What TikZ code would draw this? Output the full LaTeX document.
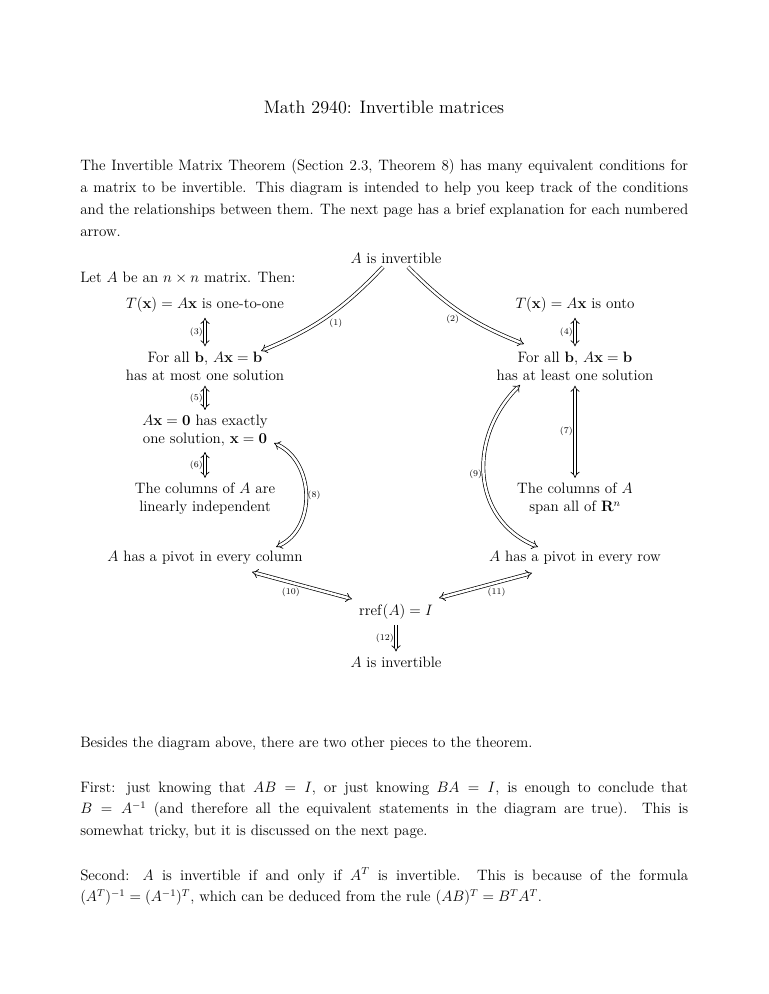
\documentclass[tikz,border=0pt,12pt]{standalone}
\usepackage{amsmath,amssymb}
\usetikzlibrary{arrows.meta,calc}

\begin{document}
\begin{tikzpicture}[x=0.7969pt,y=0.7969pt,font=\fontsize{12}{14.5}\selectfont]
\def\lx{205} % left column
\def\rx{575} % right column
\def\mx{396} % middle column
\tikzset{
  stmt/.style={align=center},
  num/.style={font=\fontsize{7}{8}\selectfont,inner sep=1.5pt},
  iff/.style={double,line width=0.55pt,double distance=2pt,Implies-Implies},
  imp/.style={double,line width=0.55pt,double distance=2pt,-Implies},
  para/.style={anchor=base west,inner sep=0pt,text width=484.5pt,align=justify,font=\fontsize{12}{17.5}\selectfont}
}
\useasboundingbox (0,0) rectangle (768,-994);

% page text
\node (title) at (384,-107) {\fontsize{14.4}{18}\selectfont Math 2940: Invertible matrices};
\node[para] (intro) at (80,-171) {The Invertible Matrix Theorem (Section 2.3, Theorem 8) has many equivalent conditions for a matrix to be invertible. This diagram is intended to help you keep track of the conditions and the relationships between them. The next page has a brief explanation for each numbered arrow.};
\node[para] (letA) at (80,-283) {Let $A$ be an $n\times n$ matrix. Then:};
\node[para] (besides) at (80,-747) {Besides the diagram above, there are two other pieces to the theorem.};
\node[para] (first) at (80,-792) {First: just knowing that $AB=I$, or just knowing $BA=I$, is enough to conclude that\linebreak $B=A^{-1}$ (and therefore all the equivalent statements in the diagram are true). This is\linebreak somewhat tricky, but it is discussed on the next page.};
\node[para] (second) at (80,-880) {Second: $A$ is invertible if and only if $A^T$ is invertible. This is because of the formula\linebreak $(A^T)^{-1}=(A^{-1})^T$, which can be deduced from the rule $(AB)^T=B^TA^T$.};

% statements
\node[stmt] (inv) at (\mx,-258) {$A$ is invertible};
\node[stmt] (one) at (\lx,-305) {$T(\mathbf{x})=A\mathbf{x}$ is one-to-one};
\node[stmt] (onto) at (\rx,-305) {$T(\mathbf{x})=A\mathbf{x}$ is onto};
\node[stmt] (most) at (\lx,-366) {For all $\mathbf{b}$, $A\mathbf{x}=\mathbf{b}$\\has at most one solution};
\node[stmt] (least) at (\rx,-366) {For all $\mathbf{b}$, $A\mathbf{x}=\mathbf{b}$\\has at least one solution};
\node[stmt] (triv) at (\lx,-431) {$A\mathbf{x}=\mathbf{0}$ has exactly\\one solution, $\mathbf{x}=\mathbf{0}$};
\node[stmt] (indep) at (\lx,-499) {The columns of $A$ are\\linearly independent};
\node[stmt] (span) at (\rx,-499) {The columns of $A$\\span all of $\mathbf{R}^n$};
\node[stmt] (pivcol) at (\lx,-558) {$A$ has a pivot in every column};
\node[stmt] (pivrow) at (\rx,-558) {$A$ has a pivot in every row};
\node[stmt] (rref) at (\mx,-612) {$\operatorname{rref}(A)=I$};
\node[stmt] (inv2) at (\mx,-662) {$A$ is invertible};

% implications
\draw[imp] ($(inv)+(-13,-9)$) to[bend left=12] node[num,midway,below right] {(1)} ($(most)+(56,15)$);
\draw[imp] ($(inv)+(12,-9)$) to[bend right=12] node[num,midway,below left] {(2)} ($(least)+(-51,22)$);
\draw[iff] (one.south) -- node[num,left] {(3)} (most.north);
\draw[iff] (onto.south) -- node[num,left] {(4)} (least.north);
\draw[iff] (most.south) -- node[num,left] {(5)} (triv.north);
\draw[iff] (triv.south) -- node[num,left] {(6)} (indep.north);
\draw[iff] (least.south) -- node[num,left] {(7)} (span.north);
\draw[iff] ($(triv)+(69,-12)$) to[out=-25,in=25,looseness=1.1] node[num,midway,right] {(8)} ($(pivcol)+(71,11)$);
\draw[iff] ($(least)+(-55,-19)$) to[out=-135,in=157,looseness=1.15] node[num,midway,left] {(9)} ($(pivrow)+(-37,11)$);
\draw[iff] ($(pivcol)+(47,-14)$) -- node[num,below left] {(10)} ($(rref)+(-44,13)$);
\draw[iff] ($(rref)+(43,14)$) -- node[num,below right] {(11)} ($(pivrow)+(-43,-15)$);
\draw[imp] (rref.south) -- node[num,left] {(12)} (inv2.north);
\end{tikzpicture}
\end{document}
